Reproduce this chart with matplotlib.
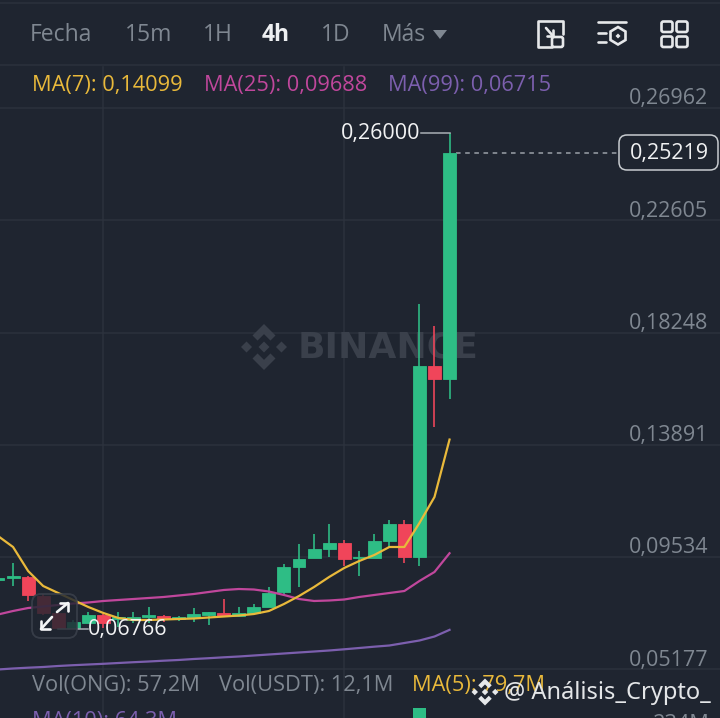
import matplotlib
matplotlib.use("Agg")
import matplotlib.pyplot as plt
from matplotlib.patches import FancyBboxPatch, Polygon
from matplotlib.transforms import Affine2D

# 蜡烛数据
opens = [0.0865, 0.08727, 0.08766, 0.08029, 0.07369, 0.06787, 0.06993, 0.07292, 0.07136, 0.07098, 0.07195,
         0.07253, 0.07136, 0.07175, 0.07303, 0.07369, 0.07253, 0.07369, 0.07602, 0.08184, 0.09154, 0.09503,
         0.09852, 0.10085, 0.09484, 0.09503, 0.10163, 0.10822, 0.09542, 0.16964, 0.16448]
highs = [0.08727, 0.09309, 0.08805, 0.08106, 0.07447, 0.07098, 0.0742, 0.0733, 0.07408, 0.07408, 0.07602,
         0.07292, 0.07253, 0.07563, 0.07408, 0.07912, 0.07602, 0.07718, 0.08378, 0.0927, 0.10046, 0.10434,
         0.10822, 0.10202, 0.09775, 0.10434, 0.10978, 0.10978, 0.19358, 0.18505, 0.26]
lows = [0.0865, 0.08417, 0.07835, 0.07292, 0.06766, 0.06787, 0.06981, 0.06787, 0.06826, 0.06981, 0.06981,
        0.0702, 0.07059, 0.0702, 0.06904, 0.07214, 0.07214, 0.07369, 0.07602, 0.08029, 0.08378, 0.09503,
        0.09542, 0.09193, 0.08805, 0.09503, 0.0993, 0.09309, 0.09193, 0.14598, 0.15672]
closes = [0.08727, 0.08805, 0.08068, 0.07369, 0.06787, 0.0702, 0.07292, 0.06981, 0.07214, 0.07214, 0.07292,
          0.07136, 0.07214, 0.0733, 0.07408, 0.07253, 0.07369, 0.07602, 0.08145, 0.09154, 0.09464, 0.09852,
          0.10085, 0.09464, 0.09542, 0.10163, 0.10822, 0.09542, 0.16964, 0.16448, 0.25219]

# 均线
ma7 = [0.10357, 0.0993, 0.08999, 0.08417, 0.08145, 0.07874, 0.07602, 0.07369, 0.07175, 0.07098, 0.07098,
       0.07117, 0.07136, 0.07156, 0.07195, 0.07233, 0.07272, 0.0733, 0.07447, 0.07718, 0.08029, 0.08378,
       0.08766, 0.09115, 0.09387, 0.0962, 0.0993, 0.0993, 0.10861, 0.1187, 0.14099]
ma25 = [0.07311, 0.07447, 0.07563, 0.07621, 0.0768, 0.07738, 0.07777, 0.07835, 0.07874, 0.07912, 0.07951,
        0.0799, 0.08048, 0.08106, 0.08184, 0.08262, 0.083, 0.08281, 0.08203, 0.08068, 0.07912, 0.07835,
        0.07854, 0.07893, 0.0799, 0.08068, 0.08145, 0.08223, 0.08611, 0.0896, 0.09688]
ma99 = [0.05177, 0.05216, 0.05247, 0.05274, 0.05313, 0.05344, 0.05371, 0.05398, 0.05429, 0.0546, 0.05487,
        0.05518, 0.05546, 0.05584, 0.05615, 0.0565, 0.05681, 0.0572, 0.05759, 0.05798, 0.05837, 0.05875,
        0.05914, 0.05961, 0.06011, 0.06062, 0.06108, 0.06205, 0.06302, 0.06457, 0.06715]

price_ticks = [0.26962, 0.22605, 0.18248, 0.13891, 0.09534, 0.05177]
time_grid = [7, 23]
vol_index = [28]
vol_values = [234]

BG = "#1f2530"
GRID = "#2c323d"
GREEN = "#2ebd85"
RED = "#f0455a"
YELLOW = "#e9b93b"
PINK = "#c0479c"
PURPLE = "#7c5fae"
GRAY = "#7f8791"
ICON = "#e6e8ea"
WHITE = "#f4f5f6"

plt.rcParams["font.family"] = ["Open Sans", "DejaVu Sans"]


def fmt(v):
    return f"{v:.5f}".replace(".", ",")


fig = plt.figure(figsize=(7.2, 7.18), dpi=100, facecolor=BG)
ax = fig.add_axes([0, 0, 1, 1], facecolor="none")
ax.set_xlim(0.133, 47.97)
ax.set_ylim(0.03295, 0.31154)
ax.axis("off")

# 像素坐标，左上角为原点
px = Affine2D().scale(1, -1).translate(0, 718)


def label(x, y, s, color=GRAY, size=15.7, ha="left", **kw):
    ax.text(x, y, s, color=color, fontsize=size, ha=ha, va="center", transform=px, **kw)


def seg(xs, ys, color=ICON, lw=1.9, zorder=8, **kw):
    ax.plot(xs, ys, color=color, lw=lw, transform=px, zorder=zorder, solid_capstyle="round", **kw)


def box(x, y, w, h, r, zorder=8, fc="none", ec=ICON, lw=1.9, alpha=None):
    ax.add_patch(FancyBboxPatch((x + r, y + r), w - 2 * r, h - 2 * r, boxstyle=f"round,pad={r},rounding_size={r}",
                                fc=fc, ec=ec, lw=lw, transform=px, zorder=zorder, alpha=alpha))


def logo(cx, cy, s, color, zorder=1, alpha=None):
    shapes = [
        [(0, -0.24), (0.24, 0), (0, 0.24), (-0.24, 0)],
        [(-0.76, -0.24), (-0.52, 0), (-0.76, 0.24), (-1, 0)],
        [(0.76, -0.24), (1, 0), (0.76, 0.24), (0.52, 0)],
        [(0, -1), (0.5, -0.5), (0.28, -0.28), (0, -0.56), (-0.28, -0.28), (-0.5, -0.5)],
        [(0, 1), (0.5, 0.5), (0.28, 0.28), (0, 0.56), (-0.28, 0.28), (-0.5, 0.5)],
    ]
    for pts in shapes:
        ax.add_patch(Polygon([(cx + s * a, cy + s * b) for a, b in pts], closed=True, fc=color, ec="none",
                             transform=px, zorder=zorder, alpha=alpha))


# 网格
for p in price_ticks:
    ax.axhline(p, color=GRID, lw=1.1, zorder=0)
for t in time_grid:
    ax.plot([t, t], [0.03295, 0.2855], color=GRID, lw=1.1, zorder=0)
seg([0, 720], [65, 65], color=GRID, lw=1.1, zorder=0)
seg([0, 720], [3, 3], color=GRID, lw=1.1, zorder=0)

# 水印
logo(264, 347, 23, "#3a404b")
ax.text(298, 347, "BINANCE", color="#3a404b", fontsize=26, fontweight="bold", va="center",
        transform=px, zorder=1, family=["DejaVu Sans"])

# 蜡烛图
for i in range(len(opens)):
    color = GREEN if closes[i] >= opens[i] else RED
    ax.plot([i, i], [lows[i], highs[i]], color=color, lw=1.3, zorder=3, alpha=0.9, solid_capstyle="butt")
    ax.bar(i, closes[i] - opens[i], bottom=opens[i], width=0.86, color=color, edgecolor=color, lw=0.6, zorder=3)

x = list(range(len(ma7)))
ax.plot(x, ma99, color=PURPLE, lw=1.6, zorder=4)
ax.plot(x, ma25, color=PINK, lw=1.6, zorder=4)
ax.plot(x, ma7, color=YELLOW, lw=1.6, zorder=5)

# 成交量
ax_vol = fig.add_axes([0, 0, 1, 48 / 718], facecolor="none")
ax_vol.set_xlim(0.133, 47.97)
ax_vol.set_ylim(184, 424)
ax_vol.axis("off")
ax_vol.bar(vol_index, vol_values, width=0.86, color=GREEN)

# 价格刻度
for p in price_ticks:
    ax.annotate(fmt(p), xy=(629 / 720, p), xycoords=("axes fraction", "data"), xytext=(0, 6.7),
                textcoords="offset points", ha="left", va="center", color=GRAY, fontsize=15.5)

# 最新价
last = closes[-1]
ax.plot([30.45, 41.3], [last, last], color="#9aa0a8", lw=1.1, ls=(0, (3, 3)), zorder=2)
box(619, 135, 99, 35, 8, fc=BG, ec="#c8ccd0", lw=1.1)
label(709, 153, fmt(last), color="#f0f1f2", size=15.5, ha="right", zorder=9)

# 最高最低
hi = max(highs)
lo = min(lows)
ax.plot([28.1, 30], [hi, hi], color="#aab0b6", lw=1.1, zorder=6)
ax.plot([4, 6], [lo, lo], color="#aab0b6", lw=1.1, zorder=6)
label(420, 133, fmt(hi), color="#f2f3f4", size=15.5, ha="right", zorder=9)
label(88, 630, fmt(lo), color="#f2f3f4", size=15.5, zorder=9)

# 顶部工具栏
label(30, 35, "Fecha", size=16.5)
label(125, 35, "15m", size=16.5)
label(203, 35, "1H", size=16.5)
label(262, 35, "4h", color="#eef0f2", size=16.5, fontweight="bold")
label(321, 35, "1D", size=16.5)
label(382, 35, "Más", size=16.5)
ax.add_patch(Polygon([(433, 30), (447, 30), (440, 39)], closed=True, fc=GRAY, ec="none", transform=px))

# 工具栏图标
seg([552, 538, 538, 563, 563], [47, 47, 21, 21, 34])
box(552, 37, 11, 10, 2)
seg([546, 553], [28, 36])
seg([547, 553, 553], [36, 36, 30])
seg([598, 626], [21.5, 21.5])
seg([598, 606], [33, 33])
seg([598, 606], [42, 42])
ax.add_patch(Polygon([(618, 27), (625.5, 31.5), (625.5, 40), (618, 44.5), (610.5, 40), (610.5, 31.5)], closed=True,
                     fc="none", ec=ICON, lw=1.9, transform=px, zorder=8))
ax.add_patch(Polygon([(618, 33.5), (620.5, 36), (618, 38.5), (615.5, 36)], closed=True, fc=ICON, ec="none",
                     transform=px, zorder=8))
for bx in (661.5, 676.5):
    for by in (21.5, 36.5):
        box(bx, by, 11, 10.5, 2)

# 均线图例
label(32, 85, "MA(7): 0,14099", color=YELLOW)
label(204, 85, "MA(25): 0,09688", color=PINK)
label(388, 85, "MA(99): 0,06715", color=PURPLE)

# 成交量图例
label(32, 685, "Vol(ONG): 57,2M")
label(219, 685, "Vol(USDT): 12,1M")
label(412, 685, "MA(5): 79,7M", color=YELLOW)
label(32, 721, "MA(10): 64,3M", color=PURPLE)
label(710, 725, "234M", ha="right")

# 全屏按钮
box(32, 594, 45, 44, 9, fc=BG, ec="#3c424d", lw=1.3, alpha=0.82, zorder=7)
seg([57, 68], [612, 603], color=WHITE)
seg([60, 68, 68], [603, 603, 611], color=WHITE)
seg([52, 41], [617, 629], color=WHITE)
seg([41, 41, 50], [621, 629, 629], color=WHITE)

# 底部署名
logo(485, 692, 13.5, "#e6e8ea", zorder=10)
ax.text(504, 693, "@ Análisis_Crypto_", color="#e4e6e8", fontsize=17, va="center", transform=px, zorder=10,
        family=["Noto Sans", "DejaVu Sans"])

fig.savefig("out.png", dpi=100, facecolor=BG)
